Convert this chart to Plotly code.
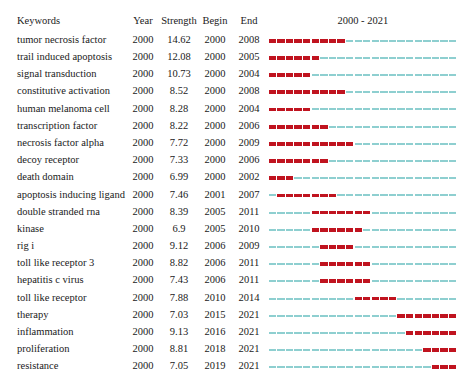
import plotly.graph_objects as go

keywords = ["tumor necrosis factor", "trail induced apoptosis", "signal transduction",
            "constitutive activation", "human melanoma cell", "transcription factor",
            "necrosis factor alpha", "decoy receptor", "death domain",
            "apoptosis inducing ligand", "double stranded rna", "kinase", "rig i",
            "toll like receptor 3", "hepatitis c virus", "toll like receptor",
            "therapy", "inflammation", "proliferation", "resistance"]
year = [2000] * 20
strength = ["14.62", "12.08", "10.73", "8.52", "8.28", "8.22", "7.72", "7.33", "6.99",
            "7.46", "8.39", "6.9", "9.12", "8.82", "7.43", "7.88", "7.03", "9.13",
            "8.81", "7.05"]
begin = [2000, 2000, 2000, 2000, 2000, 2000, 2000, 2000, 2000, 2001, 2005, 2005,
         2006, 2006, 2006, 2010, 2015, 2016, 2018, 2019]
end = [2008, 2005, 2004, 2008, 2004, 2006, 2009, 2006, 2002, 2007, 2011, 2010,
       2009, 2011, 2011, 2014, 2021, 2021, 2021, 2021]
headers = ["Keywords", "Year", "Strength", "Begin", "End"]
first_year, last_year = 2000, 2021

RED = "#c0131f"
CYAN = "#8ecfd0"
FONT = "Liberation Serif"
FS = 10.5
W, H = 474, 387

rows = list(range(1, len(keywords) + 1))

# segments
red_y, red_base, cy_y, cy_base = [], [], [], []
seg = 0.86
for r, b, e in zip(rows, begin, end):
    for yr in range(first_year, last_year + 1):
        if b <= yr <= e:
            red_y.append(r); red_base.append(yr - seg / 2)
        else:
            cy_y.append(r); cy_base.append(yr - seg / 2)

fig = go.Figure()
fig.add_trace(go.Bar(orientation="h", y=cy_y, x=[seg] * len(cy_y), base=cy_base,
                     width=0.12, marker=dict(color=CYAN, line=dict(width=0)),
                     xaxis="x2", yaxis="y", hoverinfo="skip"))
fig.add_trace(go.Bar(orientation="h", y=red_y, x=[seg] * len(red_y), base=red_base,
                     width=0.22, marker=dict(color=RED, line=dict(width=0)),
                     xaxis="x2", yaxis="y", hoverinfo="skip"))

col_x = [17, 143, 179, 215, 249]
tfont = dict(family=FONT, size=FS, color="#1a1a1a")
fig.add_trace(go.Scatter(x=[col_x[0]] * 20, y=[r - 0.03 for r in rows], text=keywords,
                         mode="text", textposition="middle right", textfont=tfont,
                         xaxis="x", yaxis="y", hoverinfo="skip"))
for cx, vals in zip(col_x[1:], [year, strength, begin, end]):
    fig.add_trace(go.Scatter(x=[cx] * 20, y=[r - 0.03 for r in rows], text=[str(v) for v in vals],
                             mode="text", textposition="middle center", textfont=tfont,
                             xaxis="x", yaxis="y", hoverinfo="skip"))
# headers
fig.add_trace(go.Scatter(x=[col_x[0]], y=[-0.12], text=[headers[0]], mode="text",
                         textposition="middle right", textfont=tfont, xaxis="x", yaxis="y",
                         hoverinfo="skip"))
fig.add_trace(go.Scatter(x=col_x[1:], y=[-0.12] * 4, text=headers[1:], mode="text",
                         textposition="middle center", textfont=tfont, xaxis="x", yaxis="y",
                         hoverinfo="skip"))
fig.add_trace(go.Scatter(x=[(first_year + last_year) / 2], y=[-0.12],
                         text=[f"{first_year} - {last_year}"], mode="text",
                         textposition="middle center", textfont=tfont, xaxis="x2", yaxis="y",
                         hoverinfo="skip"))

px0, px1 = 268.3, 457.3
y_first, step = 40.7, 17.19
fig.update_layout(
    width=W, height=H, margin=dict(l=0, r=0, t=0, b=0),
    paper_bgcolor="white", plot_bgcolor="rgba(0,0,0,0)", showlegend=False,
    barmode="overlay", bargap=0, hovermode=False,
    xaxis=dict(domain=[0, 1], range=[0, W], visible=False, fixedrange=True),
    xaxis2=dict(domain=[px0 / W, px1 / W], range=[first_year - 0.5, last_year + 0.5],
                visible=False, anchor="y"),
    yaxis=dict(range=[1 + (H - y_first) / step, 1 - y_first / step], visible=False),
)
fig.write_html("out.html", config={"displayModeBar": False},
               post_script="document.body.style.margin='0';document.body.style.overflow='hidden';")
